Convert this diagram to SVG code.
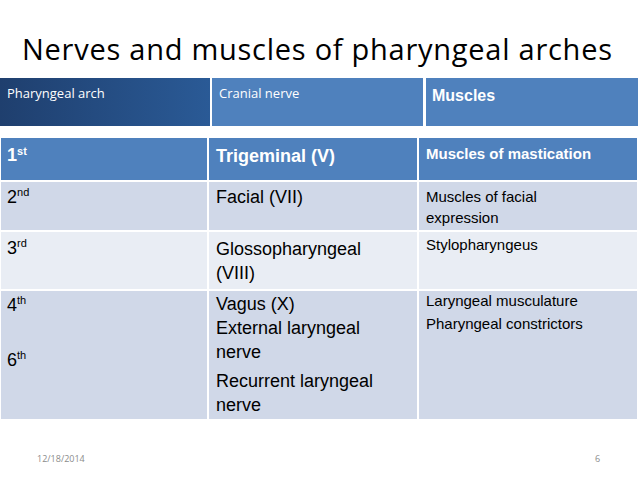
<svg xmlns="http://www.w3.org/2000/svg" width="638" height="479" viewBox="0 0 638 479">
<defs>
<linearGradient id="hd" x1="0" y1="0" x2="1" y2="0"><stop offset="0" stop-color="#1f3f6e"/><stop offset="1" stop-color="#2a5a96"/></linearGradient>
<style>
.t{font-family:"Liberation Sans",Arial,sans-serif;}
.h{font-family:"Open Sans","Liberation Sans",sans-serif;font-size:13px;fill:#fff;}
.w{fill:#fff;font-weight:bold;}
.k{fill:#000;}
.c{stroke:#fff;stroke-width:2;}
</style>
</defs>
<rect width="638" height="479" fill="#fff"/>
<text x="22" y="60" font-family="Open Sans, Liberation Sans, sans-serif" font-size="29" fill="#000" textLength="590">Nerves and muscles of pharyngeal arches</text>
<g id="header">
<rect x="0" y="78" width="210" height="48" fill="url(#hd)"/>
<rect x="212" y="78" width="211" height="48" fill="#4f81bd"/>
<rect x="426" y="78" width="212" height="48" fill="#4f81bd"/>
<text class="h" x="7" y="98">Pharyngeal arch</text>
<text class="h" x="219" y="98">Cranial nerve</text>
<text class="t w" x="432" y="101" font-size="16">Muscles</text>
</g>
<g id="table">
<rect class="c" x="0" y="137" width="208" height="44" fill="#4f81bd"/>
<rect class="c" x="208" y="137" width="210" height="44" fill="#4f81bd"/>
<rect class="c" x="418" y="137" width="220" height="44" fill="#4f81bd"/>
<rect class="c" x="0" y="181" width="208" height="50" fill="#d0d8e8"/>
<rect class="c" x="208" y="181" width="210" height="50" fill="#d0d8e8"/>
<rect class="c" x="418" y="181" width="220" height="50" fill="#d0d8e8"/>
<rect class="c" x="0" y="231" width="208" height="59" fill="#e9edf4"/>
<rect class="c" x="208" y="231" width="210" height="59" fill="#e9edf4"/>
<rect class="c" x="418" y="231" width="220" height="59" fill="#e9edf4"/>
<rect class="c" x="0" y="290" width="208" height="130" fill="#d0d8e8"/>
<rect class="c" x="208" y="290" width="210" height="130" fill="#d0d8e8"/>
<rect class="c" x="418" y="290" width="220" height="130" fill="#d0d8e8"/>
</g>
<g class="t" font-size="18">
<text class="w" x="7" y="161">1<tspan font-size="11" dy="-6">st</tspan></text>
<text class="w" x="216" y="162">Trigeminal (V)</text>
<text class="w" x="426" y="159" font-size="15">Muscles of mastication</text>
<text class="k" x="7" y="203">2<tspan font-size="11" dy="-7">nd</tspan></text>
<text class="k" x="216" y="203">Facial (VII)</text>
<text class="k" x="426" y="202" font-size="15">Muscles of facial</text>
<text class="k" x="426" y="223" font-size="15">expression</text>
<text class="k" x="7" y="254">3<tspan font-size="11" dy="-7">rd</tspan></text>
<text class="k" x="216" y="255">Glossopharyngeal</text>
<text class="k" x="216" y="279">(VIII)</text>
<text class="k" x="426" y="250" font-size="15">Stylopharyngeus</text>
<text class="k" x="7" y="311">4<tspan font-size="11" dy="-7">th</tspan></text>
<text class="k" x="7" y="366">6<tspan font-size="11" dy="-7">th</tspan></text>
<text class="k" x="216" y="310">Vagus (X)</text>
<text class="k" x="216" y="334">External laryngeal</text>
<text class="k" x="216" y="358">nerve</text>
<text class="k" x="216" y="387">Recurrent laryngeal</text>
<text class="k" x="216" y="411">nerve</text>
<text class="k" x="426" y="306" font-size="15">Laryngeal musculature</text>
<text class="k" x="426" y="329" font-size="15">Pharyngeal constrictors</text>
</g>
<text x="37" y="462" font-family="Open Sans, Liberation Sans, sans-serif" font-size="9" fill="#8b8b8b">12/18/2014</text>
<text x="595" y="462" font-family="Open Sans, Liberation Sans, sans-serif" font-size="9" fill="#8b8b8b">6</text>
</svg>
